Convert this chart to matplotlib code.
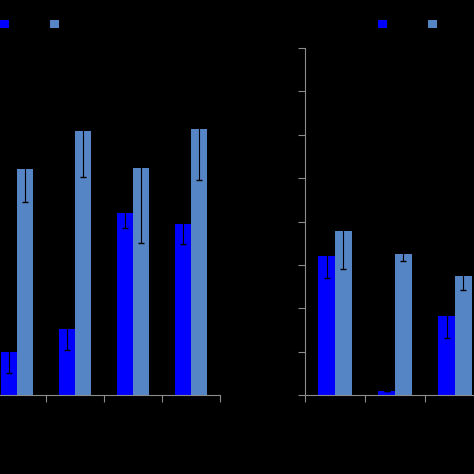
import matplotlib
matplotlib.use("Agg")
import matplotlib.pyplot as plt
import numpy as np

# left panel
left_groups = ["G1", "G2", "G3", "G4"]
left_dark = [1.0, 1.53, 4.2, 3.94]
left_dark_err = [0.5, 0.5, 0.35, 0.46]
left_light = [5.2, 6.09, 5.23, 6.13]
left_light_err = [0.76, 1.06, 1.73, 1.18]

# right panel
right_groups = ["H1", "H2", "H3"]
right_dark = [3.2, 0.09, 1.82]
right_dark_err = [0.5, 0.0, 0.5]
right_light = [3.78, 3.25, 2.74]
right_light_err = [0.88, 0.15, 0.33]

DARK = "#0000ff"
LIGHT = "#5585c5"
SPINE = "#8c8c8c"
W, H = 474, 474

fig = plt.figure(figsize=(W / 100, H / 100), dpi=100, facecolor="black")


def px_axes(x0, x1, y_top, y_bot):
    return fig.add_axes([x0 / W, 1 - y_bot / H, (x1 - x0) / W, (y_bot - y_top) / H])


def draw(ax, groups, dark, dark_err, light, light_err, show_left):
    ax.set_facecolor("black")
    x = np.arange(len(groups))
    width = 0.28
    ax.bar(x - width / 2, dark, width, color=DARK, yerr=dark_err,
           error_kw=dict(ecolor="black", elinewidth=0.8, capsize=2), label="S1")
    ax.bar(x + width / 2, light, width, color=LIGHT, yerr=light_err,
           error_kw=dict(ecolor="black", elinewidth=0.8, capsize=2), label="S2")
    ax.set_xlim(-0.5, len(groups) - 0.5)
    ax.set_ylim(0, 8)
    ax.set_xticks(np.arange(len(groups) + 1) - 0.5)
    ax.set_xticklabels([])
    ax.set_yticks(range(9))
    ax.set_yticklabels([])
    for s in ["top", "right"]:
        ax.spines[s].set_visible(False)
    ax.spines["left"].set_visible(show_left)
    ax.spines["left"].set_color(SPINE)
    ax.spines["bottom"].set_color(SPINE)
    ax.tick_params(colors=SPINE, length=5, direction="out", left=show_left)


ax1 = px_axes(-12, 220, 48, 395)
draw(ax1, left_groups, left_dark, left_dark_err, left_light, left_light_err, False)
ax2 = px_axes(305, 485, 48, 395)
draw(ax2, right_groups, right_dark, right_dark_err, right_light, right_light_err, True)

for ax, x in [(ax1, -9 / W), (ax2, 369 / W)]:
    ax.legend(loc="upper left", bbox_to_anchor=(x, 1 - 11 / H), bbox_transform=fig.transFigure,
              ncol=2, frameon=False, fontsize=7, labelcolor="black", handlelength=0.9,
              handleheight=0.9, columnspacing=2.6, handletextpad=0.4)

fig.savefig("out.png", dpi=100, facecolor="black")
